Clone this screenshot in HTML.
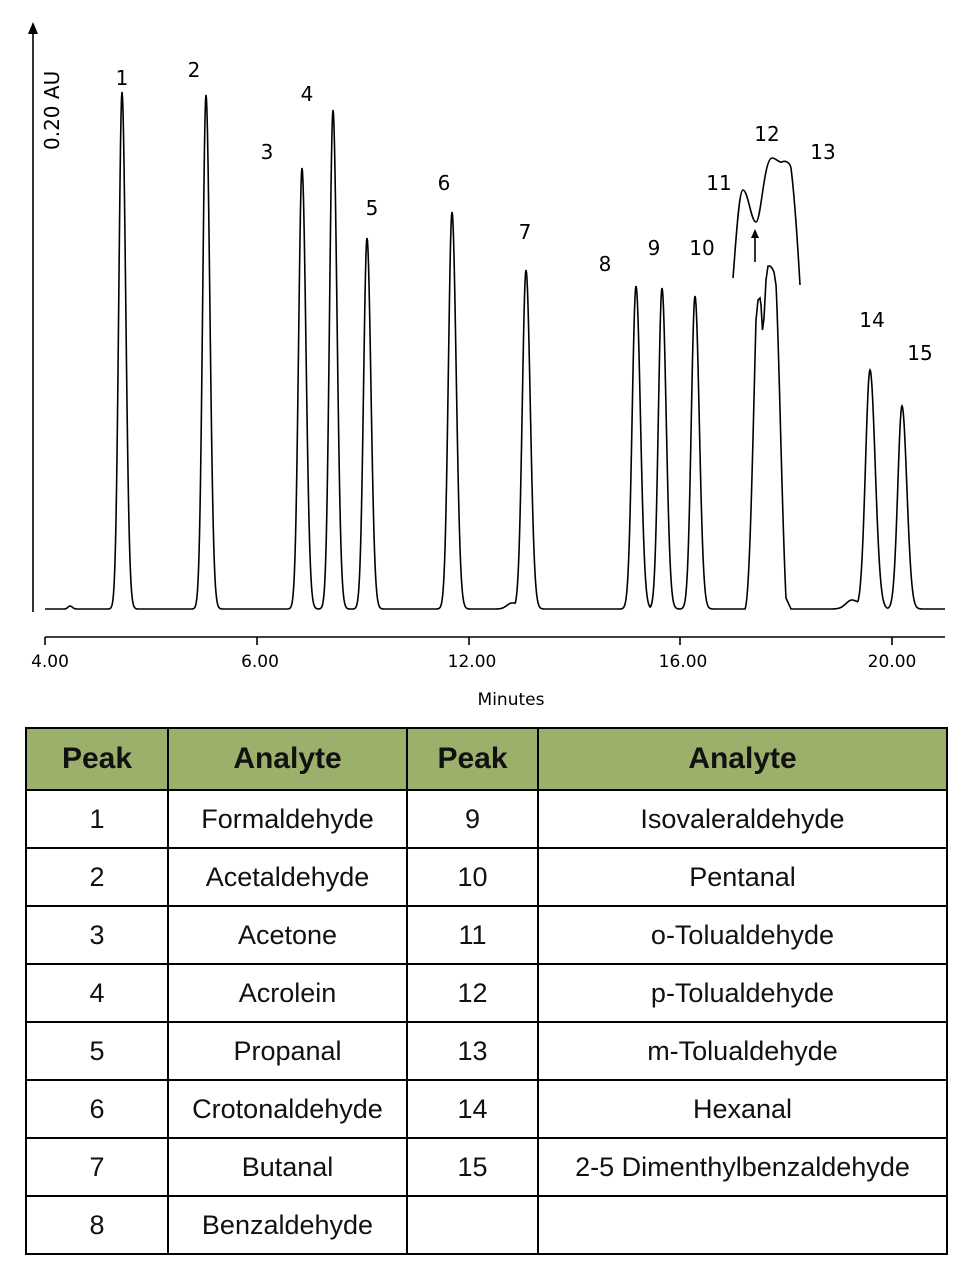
<!DOCTYPE html>
<html><head><meta charset="utf-8">
<style>
html,body{margin:0;padding:0;background:#fff;}
body{width:970px;height:1280px;position:relative;overflow:hidden;font-family:"Liberation Sans",sans-serif;}
svg{position:absolute;left:0;top:0;}
table{position:absolute;left:25px;top:727px;border-collapse:collapse;}
td,th{border:2px solid #000;text-align:center;padding:0;font-size:27px;color:#111;height:58px;box-sizing:border-box;}
th{background:#9bb06b;font-size:30px;font-weight:bold;height:62px;}
</style></head><body>
<svg width="970" height="720" viewBox="0 0 970 720">
<g stroke="#000" stroke-width="1.6" fill="none">
<line x1="33" y1="30" x2="33" y2="612"/>
<line x1="45" y1="637" x2="945" y2="637"/>
<line x1="45" y1="637" x2="45" y2="645"/>
<line x1="257" y1="637" x2="257" y2="645"/>
<line x1="469" y1="637" x2="469" y2="645"/>
<line x1="680" y1="637" x2="680" y2="645"/>
<line x1="892" y1="637" x2="892" y2="645"/>
<path id="trace" d=""/>
<path d="M733,278 C736,240 739,190 743,190 C748,190 751,222 756,222 C761,222 764,158 772,158 C776,158 779,163 782,162 C786,160 790,163 791,168 C795,200 798,250 800,285"/>
<line x1="755" y1="262" x2="755" y2="236"/>
</g>
<polygon points="755,229 751,238 759,238" fill="#000"/>
<polygon points="33,22 28,34 38,34" fill="#000"/>
<g font-family="DejaVu Sans, sans-serif" font-size="20" fill="#000" text-anchor="middle">
<text x="122" y="85">1</text><text x="194" y="77">2</text><text x="267" y="159">3</text>
<text x="307" y="101">4</text><text x="372" y="215">5</text><text x="444" y="190">6</text>
<text x="525" y="239">7</text><text x="605" y="271">8</text><text x="654" y="255">9</text>
<text x="702" y="255">10</text><text x="719" y="190">11</text><text x="767" y="141">12</text>
<text x="823" y="159">13</text><text x="872" y="327">14</text><text x="920" y="360">15</text>
</g>
<text transform="translate(59,150) rotate(-90)" font-family="DejaVu Sans, sans-serif" font-size="20">0.20 AU</text>
<g font-family="DejaVu Sans, sans-serif" font-size="17" text-anchor="middle">
<text x="50" y="667">4.00</text><text x="260" y="667">6.00</text><text x="472" y="667">12.00</text>
<text x="683" y="667">16.00</text><text x="892" y="667">20.00</text>
<text x="511" y="705">Minutes</text>
</g>
</svg>
<script>
var peaks=[[122,92,3.2],[206,95,3.3],[302,168,3.4],[333,110,3.4],[367,238,3.4],[452,212,3.6],[526,270,3.7],[636,286,3.8],[662,288,3.6],[695,296,3.7],[870,370,4.5],[902,406,4.2],[70,606,2],[512,603,5],[852,600,6]];
var base=609,d="",done=false;
function f(x){var y=0;for(var i=0;i<peaks.length;i++){var p=peaks[i],s=p[2]*(x>p[0]?1.15:1),h=base-p[1];var v=h*Math.exp(-Math.pow((x-p[0])/s,2)/2);y=Math.max(y,v)+Math.min(y,v)*0.15;}return base-y;}
for(var x=45;x<=945;x+=0.5){
 if(x>745&&x<791){if(!done){d+="C750,600 753,430 756,320 L758,300 L760,298 L761,305 L762.5,330 L764,318 L766,280 L768,266 L770,266 L772,268 L774,272 L776,285 C779,340 782,520 786,598 L791,609";done=true;}continue;}
 d+=(x==45?"M":"L")+x+","+f(x).toFixed(1);}
document.getElementById("trace").setAttribute("d",d);
</script>
<table>
<tr><th style="width:142px">Peak</th><th style="width:239px">Analyte</th><th style="width:131px">Peak</th><th style="width:409px">Analyte</th></tr>
<tr><td>1</td><td>Formaldehyde</td><td>9</td><td>Isovaleraldehyde</td></tr>
<tr><td>2</td><td>Acetaldehyde</td><td>10</td><td>Pentanal</td></tr>
<tr><td>3</td><td>Acetone</td><td>11</td><td>o-Tolualdehyde</td></tr>
<tr><td>4</td><td>Acrolein</td><td>12</td><td>p-Tolualdehyde</td></tr>
<tr><td>5</td><td>Propanal</td><td>13</td><td>m-Tolualdehyde</td></tr>
<tr><td>6</td><td>Crotonaldehyde</td><td>14</td><td>Hexanal</td></tr>
<tr><td>7</td><td>Butanal</td><td>15</td><td>2-5 Dimenthylbenzaldehyde</td></tr>
<tr><td>8</td><td>Benzaldehyde</td><td></td><td></td></tr>
</table>
</body></html>
